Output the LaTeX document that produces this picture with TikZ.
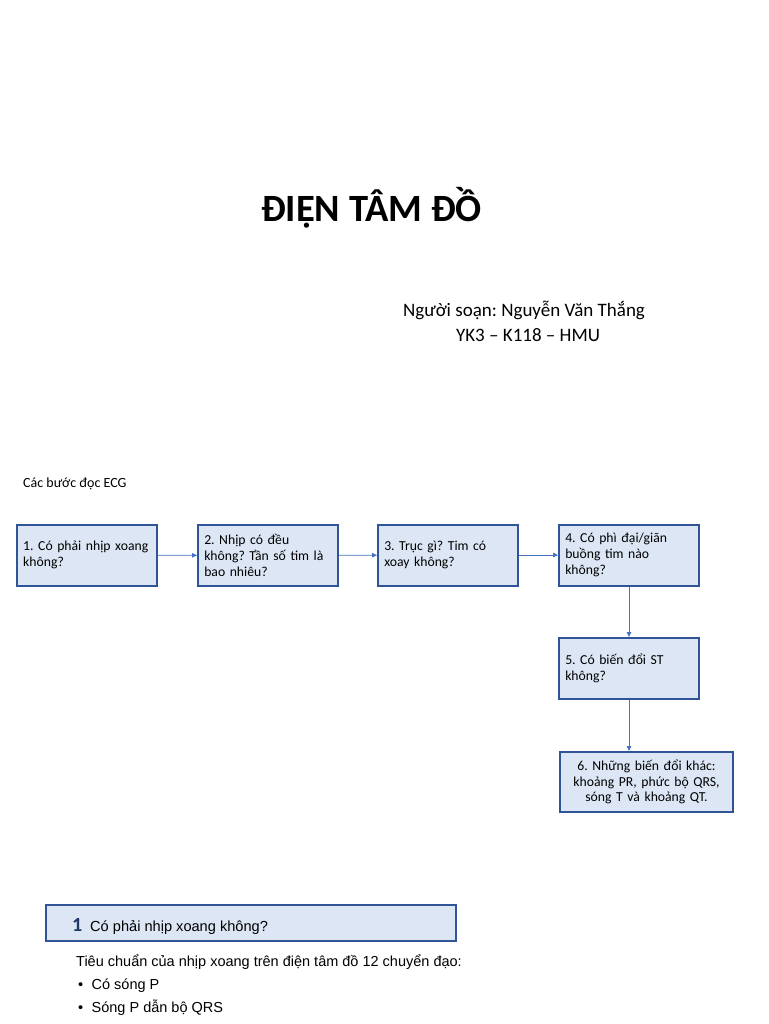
\documentclass[tikz,border=0pt]{standalone}
\usepackage{fontspec}
\setmainfont{Carlito}
\newfontfamily\arialf{Liberation Sans}
\usetikzlibrary{arrows.meta}
\definecolor{boxborder}{HTML}{2F5597}
\definecolor{boxfill}{HTML}{DCE6F4}
\definecolor{arrowblue}{HTML}{4472C4}
\definecolor{numblue}{HTML}{1F3864}
\tikzset{
  stepbox/.style={draw=boxborder, line width=2pt, fill=boxfill, minimum width=140pt,
    minimum height=61pt, inner xsep=6pt, inner ysep=4pt, text width=127.5pt, align=left,
    font=\frenchspacing\fontsize{13.7}{15.8}\selectfont},
  flow/.style={draw=arrowblue, line width=0.8pt, -{Triangle[length=5pt,width=4.5pt]}},
  bodytext/.style={inner sep=0pt, anchor=base west, font=\frenchspacing\arialf\fontsize{14.5}{16}\selectfont}
}
\begin{document}
\begin{tikzpicture}[x=1pt,y=-1pt]
\useasboundingbox[fill=white] (0,0) rectangle (768,1024);

\node[anchor=base, inner sep=0pt, font=\bfseries\fontsize{38.6}{44}\selectfont] (title) at (371.5,222) {ĐIỆN TÂM ĐỒ};
\node[anchor=base, inner sep=0pt, font=\frenchspacing\fontsize{19}{22}\selectfont] (author) at (524,316) {Người soạn: Nguyễn Văn Thắng};
\node[anchor=base, inner sep=0pt, font=\frenchspacing\fontsize{19}{22}\selectfont] (class) at (528,341) {YK3 – K118 – HMU};

\node[anchor=base west, inner sep=0pt, font=\fontsize{14}{16}\selectfont] (steps) at (23,487) {Các bước đọc ECG};

\node[stepbox] (b1) at (87,555) {1. Có phải nhịp xoang\\ không?};
\node[stepbox] (b2) at (268,555.5) {2. Nhịp có đều\\ không? Tần số tim là\\ bao nhiêu?};
\node[stepbox] (b3) at (448,555) {3. Trục gì? Tim có\\ xoay không?};
\node[stepbox] (b4) at (629,555) {4. Có phì đại/giãn\\ buồng tim nào\\ không?};
\node[stepbox] (b5) at (629,668.5) {5. Có biến đổi ST\\ không?};
\node[stepbox, minimum width=173pt, text width=161pt, minimum height=60pt, align=center] (b6) at (646.5,782) {6. Những biến đổi khác:\\ khoảng PR, phức bộ QRS,\\ sóng T và khoảng QT.};

\draw[flow] (b1) -- (b2);
\draw[flow] (b2) -- (b3);
\draw[flow] (b3) -- (b4);
\draw[flow] (b4) -- (b5);
\draw[flow] (b5.south) -- (b5.south |- b6.north);

\node[draw=boxborder, line width=2.5pt, fill=boxfill, minimum width=410pt, minimum height=36pt, inner sep=0pt] (hdr) at (251,923) {};
\node[anchor=base west, inner sep=0pt, text=numblue, font=\bfseries\fontsize{20}{22}\selectfont] (hnum) at (72,931) {1};
\node[anchor=base west, inner sep=0pt, font=\arialf\fontsize{14.6}{16}\selectfont] (htext) at (90,931) {Có phải nhịp xoang không?};

\node[bodytext] (crit) at (76,966) {Tiêu chuẩn của nhịp xoang trên điện tâm đồ 12 chuyển đạo:};
\node[bodytext] (bul1) at (78,989) {•};
\node[bodytext] (c1) at (91.5,989) {Có sóng P};
\node[bodytext] (bul2) at (78,1012) {•};
\node[bodytext] (c2) at (91.5,1012) {Sóng P dẫn bộ QRS};
\end{tikzpicture}
\end{document}
